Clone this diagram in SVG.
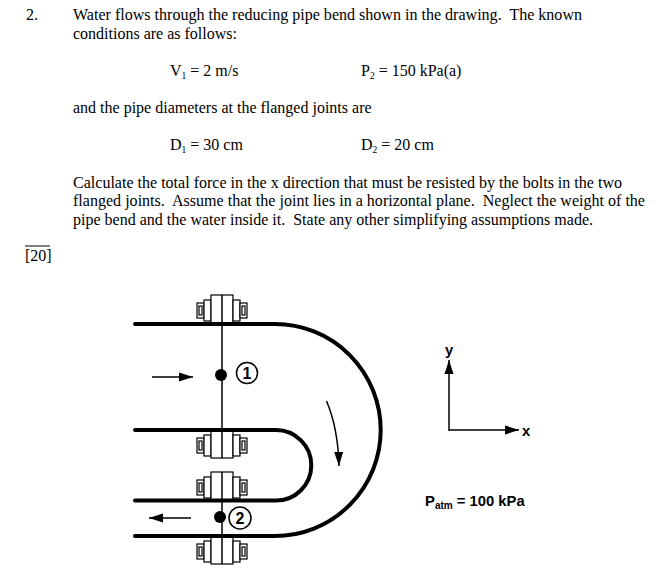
<svg xmlns="http://www.w3.org/2000/svg" xmlns:xlink="http://www.w3.org/1999/xlink" width="671" height="582" viewBox="0 0 671 582">
<style>
.t{font-family:"Liberation Serif","Times New Roman",serif;font-size:16px;fill:#000;white-space:pre}
.s{font-size:9.5px}
.l{font-family:"Liberation Sans",Arial,sans-serif;font-weight:bold;font-size:14.8px;fill:#000}
.n{font-size:16px}
.pipe{fill:none;stroke:#000;stroke-width:4;stroke-linecap:round}
.thin{fill:none;stroke:#000;stroke-width:1.5}
.fl{fill:#fff;stroke:#000;stroke-width:1.200}
</style>
<defs>
<marker id="ah" markerUnits="userSpaceOnUse" markerWidth="15" markerHeight="11" refX="14" refY="5" orient="auto"><path d="M0 0.500L14 5L0 9.500Z" fill="#000"/></marker>
<g id="flange">
<rect class="fl" x="-25" y="8" width="7" height="15"/><rect class="fl" x="-23" y="11" width="3" height="9"/>
<rect class="fl" x="-18" y="5" width="7" height="21"/>
<rect class="fl" x="-11" y="0" width="22" height="28"/>
<rect class="fl" x="11" y="5" width="7" height="21"/>
<rect class="fl" x="18" y="8" width="7" height="15"/><rect class="fl" x="20" y="11" width="3" height="9"/>
</g>
</defs>
<g id="problem-text">
<text class="t" x="26" y="20">2.</text>
<text class="t" x="73" y="20" textLength="509" lengthAdjust="spacingAndGlyphs">Water flows through the reducing pipe bend shown in the drawing.  The known</text>
<text class="t" x="73" y="39">conditions are as follows:</text>
<text class="t" x="170" y="76">V<tspan class="s" dy="3">1</tspan><tspan dy="-3"> = 2 m/s</tspan></text>
<text class="t" x="361" y="76">P<tspan class="s" dy="3">2</tspan><tspan dy="-3"> = 150 kPa(a)</tspan></text>
<text class="t" x="73" y="113">and the pipe diameters at the flanged joints are</text>
<text class="t" x="170" y="150">D<tspan class="s" dy="3">1</tspan><tspan dy="-3"> = 30 cm</tspan></text>
<text class="t" x="361" y="150">D<tspan class="s" dy="3">2</tspan><tspan dy="-3"> = 20 cm</tspan></text>
<text class="t" x="73" y="188" textLength="549" lengthAdjust="spacingAndGlyphs">Calculate the total force in the x direction that must be resisted by the bolts in the two</text>
<text class="t" x="73" y="206" textLength="572" lengthAdjust="spacingAndGlyphs">flanged joints.  Assume that the joint lies in a horizontal plane.  Neglect the weight of the</text>
<text class="t" x="73" y="225" textLength="520" lengthAdjust="spacingAndGlyphs">pipe bend and the water inside it.  State any other simplifying assumptions made.</text>
<text class="t" x="25" y="261">[20]</text>
<line x1="25" y1="246" x2="50" y2="246" stroke="#000" stroke-width="1"/>
</g>
<g id="flange-1"><use xlink:href="#flange" href="#flange" x="222" y="295"/></g>
<g id="flange-2"><use xlink:href="#flange" href="#flange" x="222" y="430"/></g>
<g id="flange-3"><use xlink:href="#flange" href="#flange" x="222" y="472"/></g>
<g id="flange-4"><use xlink:href="#flange" href="#flange" x="222" y="536"/></g>
<g id="connectors">
<line class="thin" x1="222" y1="295" x2="222" y2="458"/>
<line class="thin" x1="222" y1="472" x2="222" y2="564"/>
<path class="pipe" d="M135 324H275A105.500 105.800 0 0 1 275 536H135"/>
<path class="pipe" d="M135 430H276A35.300 35.300 0 0 1 276 500.600H135"/>
<line class="thin" x1="152" y1="377" x2="193" y2="377" marker-end="url(#ah)"/>
<line class="thin" x1="191" y1="518" x2="149" y2="518" marker-end="url(#ah)"/>
<path class="thin" d="M326.500 401Q338 428 339 466" marker-end="url(#ah)"/>
<line class="thin" x1="449" y1="431" x2="449" y2="360" marker-end="url(#ah)"/>
<line class="thin" x1="449" y1="430" x2="519" y2="430" marker-end="url(#ah)"/>
</g>
<g id="point-1"><circle cx="221" cy="375" r="6"/><circle cx="247" cy="373" r="10.500" fill="#fff" stroke="#000" stroke-width="1.500"/><text class="l n" x="247" y="379" text-anchor="middle">1</text></g>
<g id="point-2"><circle cx="220" cy="517" r="6"/><circle cx="240" cy="518" r="11" fill="#fff" stroke="#000" stroke-width="1.500"/><text class="l n" x="240" y="524" text-anchor="middle">2</text></g>
<g id="labels">
<text class="l" x="449" y="355" text-anchor="middle">y</text>
<text class="l" x="526" y="436" text-anchor="middle">x</text>
<text class="l" x="425" y="506">P<tspan font-size="10" dy="3">atm</tspan><tspan dy="-3"> = 100 kPa</tspan></text>
</g>
</svg>
